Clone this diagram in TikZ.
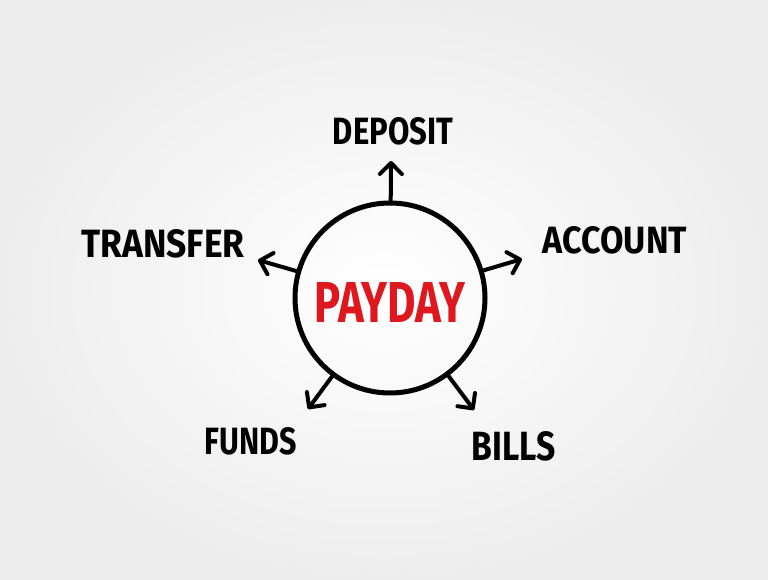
\documentclass[tikz,border=0pt]{standalone}
\usepackage{graphicx}
\usepackage{fontspec}
\setmainfont{Fira Sans}
\usepackage{tikz}
\usetikzlibrary{arrows.meta}
\colorlet{paybg}{black!7}
\definecolor{payred}{RGB}{222,24,30}
\newcommand{\fitword}[3]{\resizebox{#1pt}{#2pt}{\bfseries #3}}

\begin{document}
\begin{tikzpicture}[x=1pt, y=-1pt,
    arr/.style={line width=4pt, line cap=round, -{Straight Barb[length=11pt, width=22pt, round, line width=4pt]}},
    word/.style={inner sep=0pt, anchor=center}]

    \shade[inner color=white, outer color=paybg] (0, 0) rectangle (768, 580);
    \useasboundingbox (0, 0) rectangle (768, 580);

    \node[circle, draw, line width=5pt, minimum size=190pt, inner sep=0pt] (hub) at (390, 298) {};
    \node[word, text=payred] (payday) at (390, 302) {\fitword{150}{40}{PAYDAY}};

    \node[word] (deposit) at (393, 131) {\fitword{120}{27}{DEPOSIT}};
    \node[word] (account) at (615, 240) {\fitword{144}{27}{ACCOUNT}};
    \node[word] (transfer) at (163, 244) {\fitword{163}{28}{TRANSFER}};
    \node[word] (funds) at (251, 441) {\fitword{92}{27}{FUNDS}};
    \node[word] (bills) at (514, 446) {\fitword{84}{29}{BILLS}};

    \coordinate (depositTip) at (391, 161);
    \coordinate (accountTip) at (522, 259);
    \coordinate (transferTip) at (258, 260);
    \coordinate (fundsTip) at (308, 409);
    \coordinate (billsTip) at (474, 410);

    \draw[arr] (hub) -- (depositTip);
    \draw[arr] (hub) -- (accountTip);
    \draw[arr] (hub) -- (transferTip);
    \draw[arr] (hub) -- (fundsTip);
    \draw[arr] (hub) -- (billsTip);

\end{tikzpicture}
\end{document}
